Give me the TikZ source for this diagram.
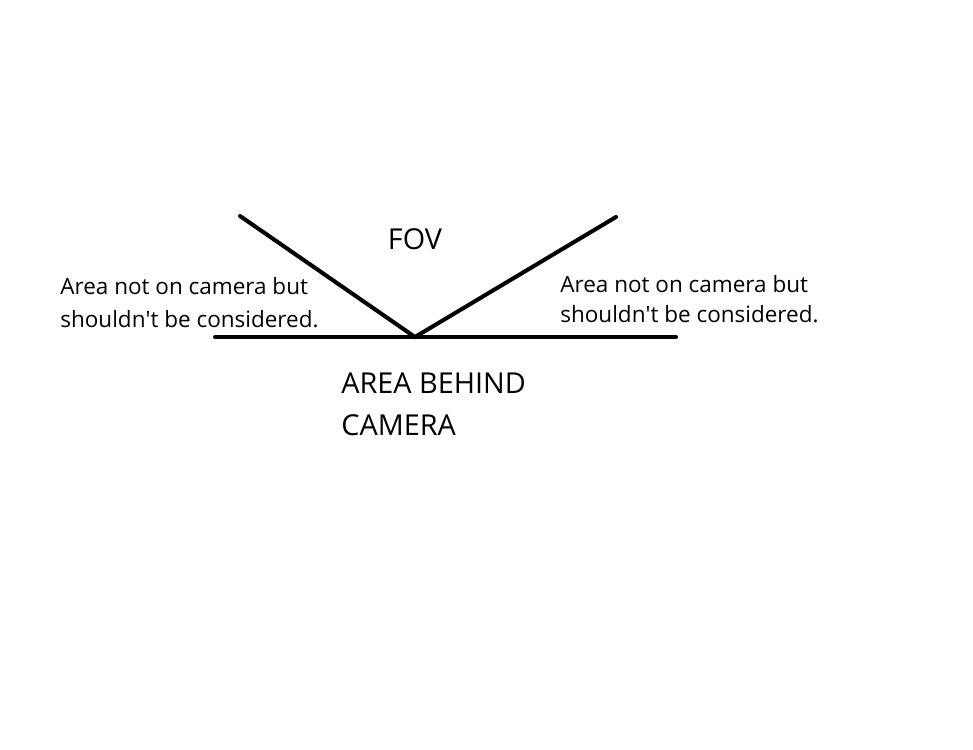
\documentclass[tikz,border=0pt]{standalone}
\usepackage{fontspec}
\setmainfont{Open Sans}
\usetikzlibrary{positioning}
\tikzset{
    ray/.style={line width=2.3pt, line cap=round},
    note/.style={anchor=west, align=left, inner sep=0pt, font=\fontsize{12.8}{18.7}\selectfont},
    big/.style={anchor=west, align=left, inner sep=0pt, font=\fontsize{16.4}{23.8}\selectfont}
}
\begin{document}
\begin{tikzpicture}[x=0.02cm, y=-0.02cm]
    % Рамка (973x750)
    \useasboundingbox (0,0) rectangle (973,750);

    % Точки линий
    \coordinate (apex) at (415,337);
    \coordinate (leftend) at (215,337);
    \coordinate (rightend) at (676,337);
    \coordinate (lefttop) at (240,216);
    \coordinate (righttop) at (616,217);

    % Линии
    \draw[ray] (leftend) -- (rightend);
    \draw[ray] (lefttop) -- (apex) -- (righttop);

    % Подписи
    \node (fov) at (415,239) {\fontsize{16.4}{20}\selectfont FOV};
    \node[note] (leftnote) at (60,303) {Area not on camera but\\shouldn\textquotesingle t be considered.};
    \node[note, font=\fontsize{12.8}{17}\selectfont] (rightnote) at (560,299) {Area not on camera but\\shouldn\textquotesingle t be considered.};
    \node[big] (behind) at (341,404) {AREA BEHIND\\CAMERA};
\end{tikzpicture}
\end{document}
